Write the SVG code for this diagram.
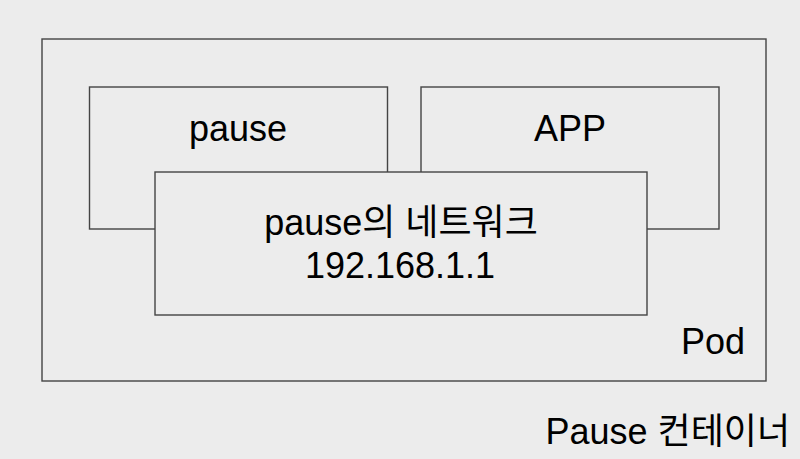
<svg xmlns="http://www.w3.org/2000/svg" width="800" height="459" viewBox="0 0 800 459">
<style>
.box{fill:none;stroke:#444;stroke-width:1.4}
.fill{fill:#ececec;stroke:#444;stroke-width:1.4}
.t{font-family:"Liberation Sans","Noto Sans CJK KR",Arial,sans-serif;font-size:36px;fill:#000}
</style>
<rect width="800" height="459" fill="#ececec"/>
<g id="container">
<text class="t" x="790" y="444" text-anchor="end">Pause 컨테이너</text>
</g>
<g id="pod">
<rect class="box" x="42" y="39" width="724" height="342"/>
<text class="t" x="745" y="354" text-anchor="end">Pod</text>
</g>
<g id="pause">
<rect class="fill" x="89.5" y="87" width="298" height="142"/>
<text class="t" x="238" y="141" text-anchor="middle">pause</text>
</g>
<g id="app">
<rect class="fill" x="421" y="87" width="298" height="142"/>
<text class="t" x="570" y="141" text-anchor="middle">APP</text>
</g>
<g id="network">
<rect class="fill" x="155" y="172" width="492" height="143"/>
<text class="t" x="401" y="235" text-anchor="middle">pause의 네트워크</text>
<text class="t" x="400" y="278" text-anchor="middle">192.168.1.1</text>
</g>
<g id="connectors"/>
</svg>
